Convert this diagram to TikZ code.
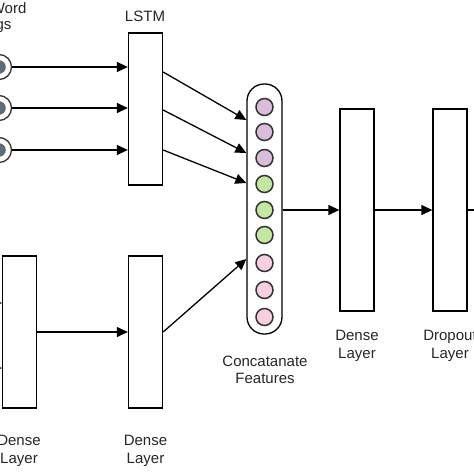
\documentclass[tikz,border=0pt]{standalone}
\usepackage{fontspec}
\setmainfont{Liberation Sans}
\usetikzlibrary{arrows.meta,positioning}
\definecolor{lilac}{HTML}{D9BDD9}
\definecolor{leaf}{HTML}{C6E6A4}
\definecolor{blush}{HTML}{F6CFE0}
\definecolor{slate}{HTML}{5B6F7C}

\begin{document}
\begin{tikzpicture}[x=1pt,y=-1pt,line width=1.3pt,
 every node/.style={font=\fontsize{15}{17.5}\selectfont},
 layer/.style={draw,minimum width=34pt,inner sep=0pt},
 unit/.style={draw=black!80,line width=1.5pt,circle,minimum size=17pt,inner sep=0pt},
 token/.style={draw=black!80,circle,minimum size=25pt,inner sep=0pt},
 arr/.style={-{Triangle[length=11pt,width=10pt]}},
 lbl/.style={align=center,text=black!85}]
\useasboundingbox (0,0) rectangle (474,474);
\clip (0,0) rectangle (474,474);
% input tokens
\foreach \i/\y in {1/67,2/108,3/150}
 {\node[token] (in\i) at (-1,\y) {};
  \fill[slate,draw=black!60,line width=1.5pt] (in\i) circle (6pt);}
\node[lbl,anchor=base east,inner sep=0pt] (wordlbl) at (27,13) {Word};
\node[lbl,anchor=base east,inner sep=0pt] (gslbl) at (12,29) {gs};
% layers
\node[layer,minimum height=152pt] (lstm) at (145.5,109) {};
\node[lbl] (lstmlbl) at (145,16) {LSTM};
\node[layer,minimum height=152pt] (dense1) at (19.5,332) {};
\node[layer,minimum height=152pt] (dense2) at (145.5,332) {};
\node[layer,minimum height=202pt] (dense3) at (357,210) {};
\node[layer,minimum height=202pt] (drop) at (450,210) {};
\node[draw,rounded corners=17pt,minimum width=35pt,minimum height=250pt,
 inner sep=0pt] (concat) at (264.5,209) {};
% concatenated features
\foreach \i/\y/\c in {1/107/lilac,2/132/lilac,3/158/lilac,4/184/leaf,5/210/leaf,
 6/235/leaf,7/263/blush,8/290/blush,9/317/blush}
 {\node[unit,fill=\c] (f\i) at (264.5,\y) {};}
% labels
\node[lbl] (concatlbl) at (265,370) {Concatanate\\Features};
\node[lbl] (dense3lbl) at (357,346) {Dense\\Layer};
\node[lbl] (droplbl) at (450,346) {Dropout\\Layer};
\node[lbl] (dense1lbl) at (19,451) {Dense\\Layer};
\node[lbl] (dense2lbl) at (145.5,451) {Dense\\Layer};
% connectors
\foreach \i in {1,2,3}
 {\draw[arr] (in\i) -- (in\i -| lstm.west);}
\draw[arr] ([yshift=37pt]lstm.east) -- ([yshift=89pt]concat.west);
\draw[arr] ([yshift=-1pt]lstm.east) -- ([yshift=56pt]concat.west);
\draw[arr] ([yshift=-41pt]lstm.east) -- ([yshift=26pt]concat.west);
\coordinate (e1) at (-25,303);
\coordinate (e2) at (-25,368);
\draw[arr] (e1) -- (e1 -| dense1.west);
\draw[arr] (e2) -- (e2 -| dense1.west);
\draw[arr] (dense1) -- (dense2);
\draw[arr] (dense2.east) -- ([yshift=-50pt]concat.west);
\draw[arr] (concat.east |- dense3) -- (dense3.west);
\draw[arr] (dense3) -- (drop);
\coordinate (out) at (490,210);
\draw (drop.east) -- (out);
\end{tikzpicture}
\end{document}
